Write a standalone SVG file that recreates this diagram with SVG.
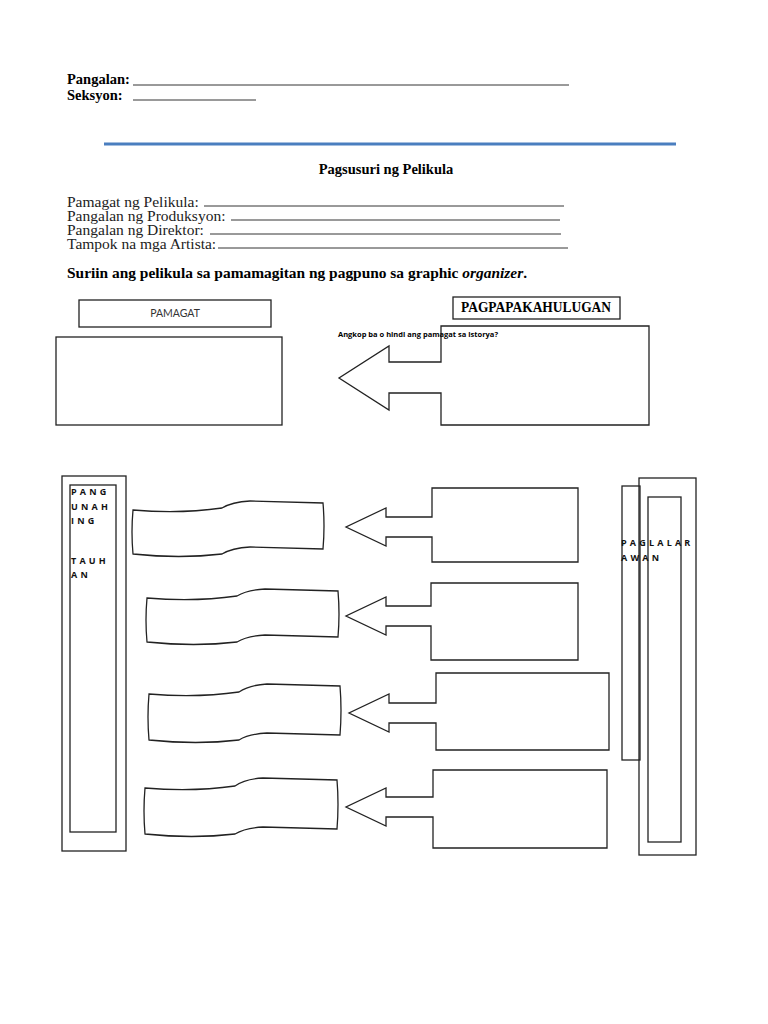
<svg xmlns="http://www.w3.org/2000/svg" width="768" height="1024" viewBox="0 0 768 1024">
<style>
.s{fill:none;stroke:#222;stroke-width:1.3}
.w{fill:#fff;stroke:#222;stroke-width:1.3}
.sf{font-family:"Liberation Serif",serif;font-size:14.5px;fill:#000}
.f{font-size:15.5px;fill:#222}
.b{font-weight:bold}
.ln{stroke:#000;stroke-width:0.8}
.sm{font-family:"Open Sans","DejaVu Sans",sans-serif;font-size:9px;font-weight:bold;fill:#111;letter-spacing:3.2px}
</style>
<rect width="768" height="1024" fill="#fff"/>
<g id="header">
<text x="67" y="84" class="sf b" font-size="14">Pangalan:</text>
<line x1="133" y1="85" x2="569" y2="85" class="ln"/>
<text x="67" y="100" class="sf b" font-size="14">Seksyon:</text>
<line x1="133" y1="100" x2="256" y2="100" class="ln"/>
<line x1="104" y1="144" x2="676" y2="144" stroke="#4a7ebf" stroke-width="3"/>
<text x="386" y="174" class="sf b" font-size="13.5" text-anchor="middle">Pagsusuri ng Pelikula</text>
<text x="67" y="207" class="sf f">Pamagat ng Pelikula:</text>
<line x1="204" y1="206" x2="564" y2="206" class="ln"/>
<text x="67" y="221" class="sf f">Pangalan ng Produksyon:</text>
<line x1="231" y1="220" x2="560" y2="220" class="ln"/>
<text x="67" y="235" class="sf f">Pangalan ng Direktor:</text>
<line x1="210" y1="234" x2="561" y2="234" class="ln"/>
<text x="67" y="249" class="sf f">Tampok na mga Artista:</text>
<line x1="218" y1="248" x2="568" y2="248" class="ln"/>
<text x="67" y="278" class="sf b" textLength="460" lengthAdjust="spacingAndGlyphs">Suriin ang pelikula sa pamamagitan ng pagpuno sa graphic <tspan font-style="italic">organizer</tspan>.</text>
</g>
<g id="pamagat">
<rect x="79" y="300" width="192" height="27" class="s"/>
<text x="175" y="317" font-family="Lato,'DejaVu Sans',sans-serif" font-size="10.5" fill="#333" text-anchor="middle">PAMAGAT</text>
<rect x="56" y="337" width="226" height="88" class="s"/>
</g>
<g id="pagpapakahulugan">
<rect x="453" y="297" width="167" height="22" class="s"/>
<text x="536" y="312" class="sf b" font-size="11" text-anchor="middle" textLength="150" lengthAdjust="spacingAndGlyphs">PAGPAPAKAHULUGAN</text>
<path d="M441,326 H649 V425 H441 V393 H389 V410 L339,378 L389,346 V362 H441 Z" class="w"/>
<text x="338" y="337" font-family="'Open Sans','DejaVu Sans',sans-serif" font-size="7.5" font-weight="bold" fill="#000">Angkop ba o hindi ang pamagat sa istorya?</text>
</g>
<g id="tauhan">
<rect x="62" y="476" width="64" height="375" class="s"/>
<rect x="70" y="485" width="46" height="347" class="s"/>
<text class="sm"><tspan x="71" y="495">PANG</tspan><tspan x="71" y="510">UNAH</tspan><tspan x="71" y="524">ING</tspan><tspan x="71" y="564">TAUH</tspan><tspan x="71" y="578">AN</tspan></text>
</g>
<g id="banners">
<path class="s" d="M133,510 Q180,514 222,508 Q232,502 250,501 L323,503 Q325,526 323,549 L250,547 Q232,548 222,554 Q180,559 133,554 Q131,532 133,510 Z"/>
<path class="s" d="M147,598 Q195,602 237,596 Q247,590 265,589 L338,591 Q340,614 338,637 L265,635 Q247,636 237,642 Q195,647 147,642 Q145,620 147,598 Z"/>
<path class="s" d="M149,694 Q197,698 239,692 Q249,685 267,684 L340,686 Q342,710 340,735 L267,733 Q249,734 239,740 Q197,745 149,740 Q147,717 149,694 Z"/>
<path class="s" d="M145,788 Q193,792 235,786 Q245,779 263,778 L337,780 Q339,804 337,829 L263,827 Q245,828 235,834 Q193,839 145,834 Q143,811 145,788 Z"/>
</g>
<g id="boxes">
<path class="w" d="M432,488 H578 V562 H432 V537 H386 V546 L346,527 L386,508 V517 H432 Z"/>
<path class="w" d="M431,583 H578 V660 H431 V626 H386 V635 L346,616 L386,597 V606 H431 Z"/>
<path class="w" d="M436,673 H609 V750 H436 V723 H389 V732 L349,713 L389,694 V703 H436 Z"/>
<path class="w" d="M433,770 H607 V848 H433 V817 H386 V826 L346,807 L386,788 V797 H433 Z"/>
</g>
<g id="paglalarawan">
<rect x="622" y="486" width="18" height="274" class="s"/>
<rect x="639" y="478" width="57" height="377" class="s"/>
<rect x="648" y="497" width="33" height="345" class="s"/>
<text class="sm"><tspan x="621" y="546">PAGLALAR</tspan><tspan x="621" y="561">AWAN</tspan></text>
</g>
</svg>
